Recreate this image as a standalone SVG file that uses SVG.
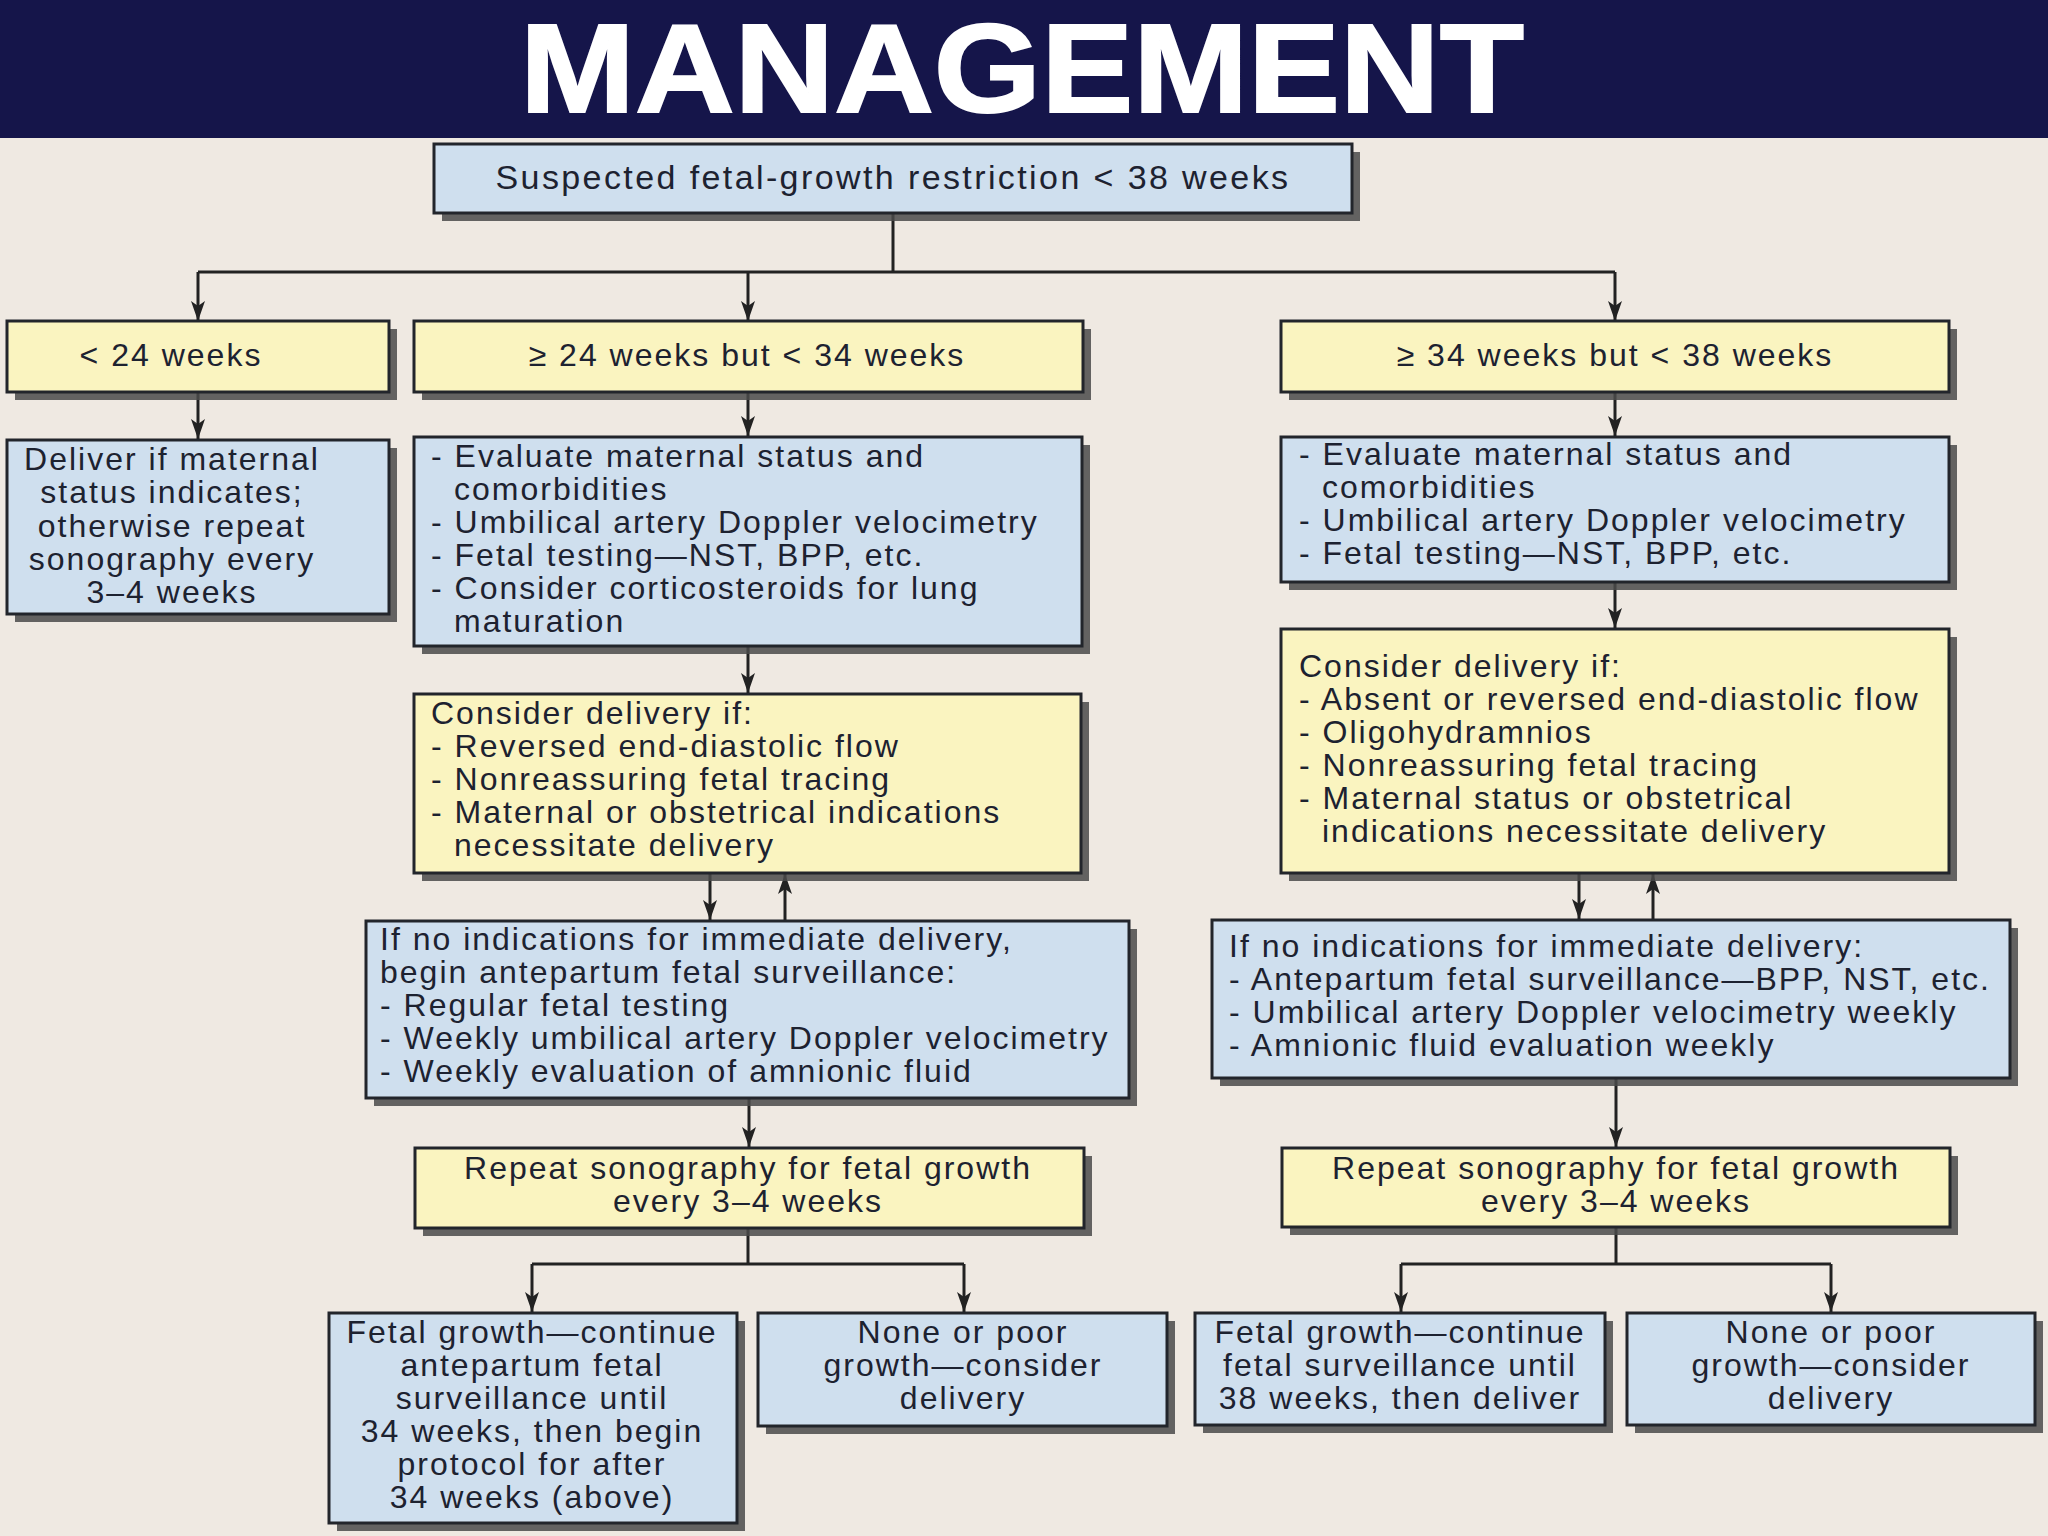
<svg xmlns="http://www.w3.org/2000/svg" width="2048" height="1536" viewBox="0 0 2048 1536">
<defs>
<style>
.bg{fill:#efe9e2}
.hdr{fill:#15154a}
.ttl{font-family:"Liberation Sans",Arial,sans-serif;font-weight:bold;font-size:126px;fill:#ffffff;stroke:#ffffff;stroke-width:2}
.sh{fill:#4a4a4a;opacity:0.85}
.blue{fill:#cfdfee;stroke:#22252b;stroke-width:3}
.yel{fill:#faf4c0;stroke:#22252b;stroke-width:3}
.t{font-family:"Liberation Sans",Arial,sans-serif;font-size:32px;letter-spacing:2px;fill:#1d2230}
.c{text-anchor:middle}
.big{font-size:34px;letter-spacing:2.4px}
.ln{fill:none;stroke:#222222;stroke-width:3}
</style>
<marker id="ah" viewBox="0 0 20 16" refX="20" refY="8" markerWidth="20" markerHeight="16" markerUnits="userSpaceOnUse" orient="auto">
<path d="M0,1 L20,8 L0,15 L5,8 Z" fill="#222222"/>
</marker>
</defs>
<rect class="bg" x="0" y="0" width="2048" height="1536"/>
<rect class="hdr" x="0" y="0" width="2048" height="138"/>
<text class="ttl" x="520" y="112" textLength="1004" lengthAdjust="spacingAndGlyphs">MANAGEMENT</text>

<g id="connectors">
<path class="ln" d="M893,213 V272 M198,272 H1615"/>
<path class="ln" marker-end="url(#ah)" d="M198,272 V321"/>
<path class="ln" marker-end="url(#ah)" d="M748,272 V321"/>
<path class="ln" marker-end="url(#ah)" d="M1615,272 V321"/>
<path class="ln" marker-end="url(#ah)" d="M198,392 V439"/>
<path class="ln" marker-end="url(#ah)" d="M748,392 V436"/>
<path class="ln" marker-end="url(#ah)" d="M1615,392 V436"/>
<path class="ln" marker-end="url(#ah)" d="M748,646 V693"/>
<path class="ln" marker-end="url(#ah)" d="M1615,582 V628"/>
<path class="ln" marker-end="url(#ah)" d="M710,873 V920"/>
<path class="ln" marker-end="url(#ah)" d="M785,921 V874"/>
<path class="ln" marker-end="url(#ah)" d="M1579,873 V919"/>
<path class="ln" marker-end="url(#ah)" d="M1653,920 V874"/>
<path class="ln" marker-end="url(#ah)" d="M749,1098 V1147"/>
<path class="ln" marker-end="url(#ah)" d="M1616,1078 V1147"/>
<path class="ln" d="M748,1228 V1264 M532,1264 H964"/>
<path class="ln" marker-end="url(#ah)" d="M532,1264 V1312"/>
<path class="ln" marker-end="url(#ah)" d="M964,1264 V1312"/>
<path class="ln" d="M1616,1227 V1264 M1401,1264 H1831"/>
<path class="ln" marker-end="url(#ah)" d="M1401,1264 V1312"/>
<path class="ln" marker-end="url(#ah)" d="M1831,1264 V1312"/>
</g>

<g id="n-top">
<rect class="sh" x="442" y="152" width="918" height="69"/>
<rect class="blue" x="434" y="144" width="918" height="69"/>
<text class="t c big" x="893" y="189">Suspected fetal-growth restriction &lt; 38 weeks</text>
</g>

<g id="n-lt24">
<rect class="sh" x="15" y="329" width="382" height="71"/>
<rect class="yel" x="7" y="321" width="382" height="71"/>
<text class="t c" x="171" y="366">&lt; 24 weeks</text>
</g>

<g id="n-24to34">
<rect class="sh" x="422" y="329" width="669" height="71"/>
<rect class="yel" x="414" y="321" width="669" height="71"/>
<text class="t c" x="747" y="366">≥ 24 weeks but  &lt;  34 weeks</text>
</g>

<g id="n-34to38">
<rect class="sh" x="1289" y="329" width="668" height="71"/>
<rect class="yel" x="1281" y="321" width="668" height="71"/>
<text class="t c" x="1615" y="366">≥ 34 weeks but &lt; 38 weeks</text>
</g>

<g id="n-deliver">
<rect class="sh" x="15" y="448" width="382" height="174"/>
<rect class="blue" x="7" y="440" width="382" height="174"/>
<text class="t c" x="172" y="470">Deliver if maternal</text>
<text class="t c" x="172" y="503">status indicates;</text>
<text class="t c" x="172" y="537">otherwise repeat</text>
<text class="t c" x="172" y="570">sonography every</text>
<text class="t c" x="172" y="603">3–4 weeks</text>
</g>

<g id="n-eval-mid">
<rect class="sh" x="422" y="445" width="668" height="209"/>
<rect class="blue" x="414" y="437" width="668" height="209"/>
<text class="t" x="431" y="467">- Evaluate maternal status and</text>
<text class="t" x="454" y="500">comorbidities</text>
<text class="t" x="431" y="533">- Umbilical artery Doppler velocimetry</text>
<text class="t" x="431" y="566">- Fetal testing—NST, BPP, etc.</text>
<text class="t" x="431" y="599">- Consider corticosteroids for lung</text>
<text class="t" x="454" y="632">maturation</text>
</g>

<g id="n-consider-mid">
<rect class="sh" x="422" y="702" width="667" height="179"/>
<rect class="yel" x="414" y="694" width="667" height="179"/>
<text class="t" x="431" y="724">Consider delivery if:</text>
<text class="t" x="431" y="757">- Reversed end-diastolic flow</text>
<text class="t" x="431" y="790">- Nonreassuring fetal tracing</text>
<text class="t" x="431" y="823">- Maternal or obstetrical indications</text>
<text class="t" x="454" y="856">necessitate delivery</text>
</g>

<g id="n-surv-mid">
<rect class="sh" x="374" y="929" width="763" height="177"/>
<rect class="blue" x="366" y="921" width="763" height="177"/>
<text class="t" x="380" y="950">If no indications for immediate delivery,</text>
<text class="t" x="380" y="983">begin antepartum fetal surveillance:</text>
<text class="t" x="380" y="1016">- Regular fetal testing</text>
<text class="t" x="380" y="1049">- Weekly umbilical artery Doppler velocimetry</text>
<text class="t" x="380" y="1082">- Weekly evaluation of amnionic fluid</text>
</g>

<g id="n-repeat-mid">
<rect class="sh" x="423" y="1156" width="669" height="80"/>
<rect class="yel" x="415" y="1148" width="669" height="80"/>
<text class="t c" x="748" y="1179">Repeat sonography for fetal growth</text>
<text class="t c" x="748" y="1212">every 3–4 weeks</text>
</g>

<g id="n-growth-mid">
<rect class="sh" x="337" y="1321" width="408" height="210"/>
<rect class="blue" x="329" y="1313" width="408" height="210"/>
<text class="t c" x="532" y="1343">Fetal growth—continue</text>
<text class="t c" x="532" y="1376">antepartum fetal</text>
<text class="t c" x="532" y="1409">surveillance until</text>
<text class="t c" x="532" y="1442">34 weeks, then begin</text>
<text class="t c" x="532" y="1475">protocol for after</text>
<text class="t c" x="532" y="1508">34 weeks (above)</text>
</g>

<g id="n-poor-mid">
<rect class="sh" x="766" y="1321" width="409" height="113"/>
<rect class="blue" x="758" y="1313" width="409" height="113"/>
<text class="t c" x="963" y="1343">None or poor</text>
<text class="t c" x="963" y="1376">growth—consider</text>
<text class="t c" x="963" y="1409">delivery</text>
</g>

<g id="n-eval-right">
<rect class="sh" x="1289" y="445" width="668" height="145"/>
<rect class="blue" x="1281" y="437" width="668" height="145"/>
<text class="t" x="1299" y="465">- Evaluate maternal status and</text>
<text class="t" x="1322" y="498">comorbidities</text>
<text class="t" x="1299" y="531">- Umbilical artery Doppler velocimetry</text>
<text class="t" x="1299" y="564">- Fetal testing—NST, BPP, etc.</text>
</g>

<g id="n-consider-right">
<rect class="sh" x="1289" y="637" width="668" height="244"/>
<rect class="yel" x="1281" y="629" width="668" height="244"/>
<text class="t" x="1299" y="677">Consider delivery if:</text>
<text class="t" x="1299" y="710">- Absent or reversed end-diastolic flow</text>
<text class="t" x="1299" y="743">- Oligohydramnios</text>
<text class="t" x="1299" y="776">- Nonreassuring fetal tracing</text>
<text class="t" x="1299" y="809">- Maternal status or obstetrical</text>
<text class="t" x="1322" y="842">indications necessitate delivery</text>
</g>

<g id="n-surv-right">
<rect class="sh" x="1220" y="928" width="798" height="158"/>
<rect class="blue" x="1212" y="920" width="798" height="158"/>
<text class="t" x="1229" y="957">If no indications for immediate delivery:</text>
<text class="t" x="1229" y="990">- Antepartum fetal surveillance—BPP, NST, etc.</text>
<text class="t" x="1229" y="1023">- Umbilical artery Doppler velocimetry weekly</text>
<text class="t" x="1229" y="1056">- Amnionic fluid evaluation weekly</text>
</g>

<g id="n-repeat-right">
<rect class="sh" x="1290" y="1156" width="668" height="79"/>
<rect class="yel" x="1282" y="1148" width="668" height="79"/>
<text class="t c" x="1616" y="1179">Repeat sonography for fetal growth</text>
<text class="t c" x="1616" y="1212">every 3–4 weeks</text>
</g>

<g id="n-growth-right">
<rect class="sh" x="1203" y="1321" width="410" height="112"/>
<rect class="blue" x="1195" y="1313" width="410" height="112"/>
<text class="t c" x="1400" y="1343">Fetal growth—continue</text>
<text class="t c" x="1400" y="1376">fetal surveillance until</text>
<text class="t c" x="1400" y="1409">38 weeks, then deliver</text>
</g>

<g id="n-poor-right">
<rect class="sh" x="1635" y="1321" width="408" height="112"/>
<rect class="blue" x="1627" y="1313" width="408" height="112"/>
<text class="t c" x="1831" y="1343">None or poor</text>
<text class="t c" x="1831" y="1376">growth—consider</text>
<text class="t c" x="1831" y="1409">delivery</text>
</g>
</svg>
